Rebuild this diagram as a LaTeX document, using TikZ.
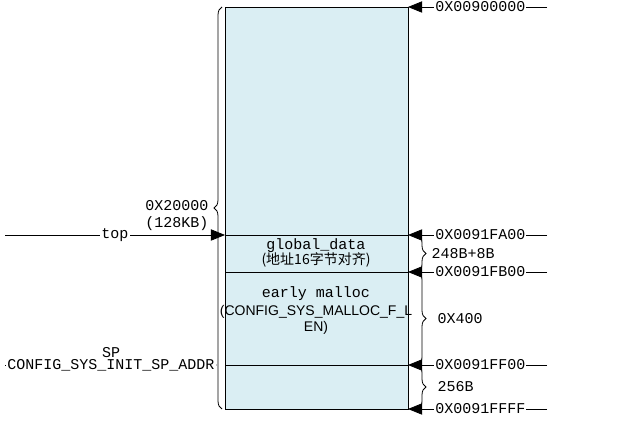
\documentclass[tikz,border=0pt]{standalone}
\usepackage{fontspec}
\setmainfont{Liberation Mono}
\newfontfamily\cjk{Noto Sans CJK SC}
\newfontfamily\sansf{Liberation Sans}
\usetikzlibrary{decorations.pathreplacing,arrows.meta,positioning}
\definecolor{memfill}{HTML}{DAEEF3}
\tikzset{
  mem/.style={draw, thick, fill=memfill},
  addr/.style={fill=white, inner sep=1pt, font=\fontsize{15}{17}\selectfont},
  lbl/.style={font=\fontsize{15}{17}\selectfont, align=center},
  arr/.style={thick, -{Triangle[length=5mm,width=4mm]}},
  brc/.style={thick, decorate, decoration={brace, amplitude=8pt}}
}
\begin{document}
\begin{tikzpicture}[x=1pt,y=-1pt]
\useasboundingbox (0,0) rectangle (621,427);
% memory block
\draw[mem] (225,7) rectangle (408,409);
\coordinate (r0) at (408,7);
\coordinate (r1) at (408,235);
\coordinate (r2) at (408,272);
\coordinate (r3) at (408,365);
\coordinate (r4) at (408,409);
\coordinate (l1) at (225,235);
\coordinate (l3) at (225,365);
\draw[thick] (l1) -- (r1);
\draw[thick] (225,272) -- (r2);
\draw[thick] (l3) -- (r3);
\node[lbl] (gd) at (316,253) {global\_data\\[-2pt]{\cjk\fontsize{14}{16}\selectfont (地址16字节对齐)}};
\node[lbl] (em) at (316,311) {early malloc\\[1pt]{\sansf\fontsize{14}{18}\selectfont (CONFIG\_SYS\_MALLOC\_F\_L}\\[-1pt]{\sansf\fontsize{14}{18}\selectfont EN)}};
% addresses on the right
\foreach \c/\t/\y in {r0/0X00900000/7, r1/0X0091FA00/235, r2/0X0091FB00/272, r3/0X0091FF00/365, r4/0X0091FFFF/409} {
  \coordinate (e\c) at (547,\y);
  \draw[arr] (e\c) -- (\c) node[addr, pos=0.48] {\t};
}
% braces on the right
\draw[brc] (418,235) -- (418,272) node[lbl, midway, right=10pt] (b1) {248B+8B};
\draw[brc] (418,272) -- (418,365) node[lbl, midway, right=16pt] (b2) {0X400};
\draw[brc] (418,365) -- (418,409) node[lbl, midway, right=16pt] (b3) {256B};
% left side
\draw[brc] (222,409) -- (222,7) node[lbl, midway, left=10pt, yshift=-8pt] (sz) {0X20000\\(128KB)};
\coordinate (t0) at (5,235);
\draw[arr] (t0) -- (l1) node[addr, pos=0.5] (top) {top};
\coordinate (s0) at (5,365);
\coordinate (s1) at (217,365);
\draw[arr] (s0) -- (s1) node[addr, pos=0.5] (sp) {CONFIG\_SYS\_INIT\_SP\_ADDR};
\node[lbl, above=-4pt of sp, yshift=1pt] (spl) {SP};
\end{tikzpicture}
\end{document}
